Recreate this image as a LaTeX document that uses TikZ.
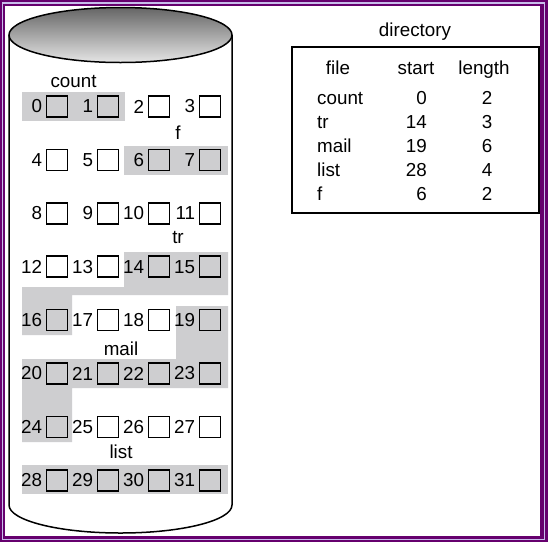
\documentclass[tikz,border=0pt]{standalone}
\usepackage{fontspec}
\setmainfont{Liberation Sans}
\usepackage{tikz}
\usetikzlibrary{
    positioning
}
\definecolor{framepurple}{RGB}{102,0,110}
\definecolor{framelight}{RGB}{200,190,235}
\definecolor{blockgray}{RGB}{206,206,208}
\tikzset{
    blk/.style={
        draw,
        line width=1.5pt,
        minimum size=21pt,
        inner sep=0pt
    },
    num/.style={
        inner sep=0pt
    },
    lbl/.style={
        inner sep=0pt,
        anchor=base
    },
    used/.style={
        fill=blockgray
    }
}
\begin{document}
\begin{tikzpicture}[
    x=1pt, y=-1pt,
    font=\fontsize{18.8pt}{22pt}\selectfont
]
    \useasboundingbox (0,0) rectangle (548,542);

    % Marco
    \fill[framepurple] (0,0) rectangle (548,542);
    \fill[framelight] (2,2) rectangle (545,540);
    \fill[framepurple] (3,4) rectangle (544,539);
    \fill[white] (5,6) rectangle (540,536);

    % Cilindro
    \draw[line width=1.5pt, fill=white]
        (9,35) -- (9,505)
        arc[start angle=180, end angle=0, x radius=111.5, y radius=28]
        -- (232,35);

    % Zonas ocupadas
    \fill[used] (22,92) rectangle (125,121);                 % count
    \fill[used] (124,146) rectangle (228,175);               % f
    \fill[used] (124,252) -- (228,252) -- (228,295) -- (72,295)
        -- (72,335) -- (22,335) -- (22,287) -- (124,287) -- cycle; % tr
    \fill[used] (176,306) -- (228,306) -- (228,388) -- (72,388)
        -- (72,442) -- (22,442) -- (22,359) -- (176,359) -- cycle; % mail
    \fill[used] (22,465) rectangle (228,494);                % list

    % Bloques
    \foreach \n in {0,...,31} {
        \pgfmathtruncatemacro\r{int(\n/4)}
        \pgfmathtruncatemacro\c{mod(\n,4)}
        \node[blk] (b\n) at (57+51*\c, 106.5+53.4*\r) {};
        \node[num, left=3.5pt of b\n] (n\n) {\n};
    }

    % Nombres
    \node[lbl] (lcount) at (73.5,87)  {count};
    \node[lbl] (lf)     at (178,139)  {f};
    \node[lbl] (ltr)    at (178,243)  {tr};
    \node[lbl] (lmail)  at (121,355)  {mail};
    \node[lbl] (llist)  at (121,458)  {list};

    % Tapa
    \shade[top color=black!60, bottom color=black!10]
        (120.5,35) ellipse[x radius=111.5, y radius=27.5];
    \draw[line width=1.5pt]
        (120.5,35) ellipse[x radius=111.5, y radius=27.5];

    % Directorio
    \node[lbl] (dir) at (415,36) {directory};
    \draw[line width=2pt] (292,47) rectangle (539,213);

    \node[lbl] (hfile)   at (338,74) {file};
    \node[lbl] (hstart)  at (416,74) {start};
    \node[lbl] (hlength) at (484,74) {length};

    \foreach \name/\st/\len [count=\i from 0] in
        {count/0/2, tr/14/3, mail/19/6, list/28/4, f/6/2} {
        \node[num, anchor=base west] (f\i) at (317,104+24*\i) {\name};
        \node[num, anchor=base east] (s\i) at (427,104+24*\i) {\st};
        \node[num, anchor=base]      (l\i) at (487,104+24*\i) {\len};
    }

\end{tikzpicture}
\end{document}
